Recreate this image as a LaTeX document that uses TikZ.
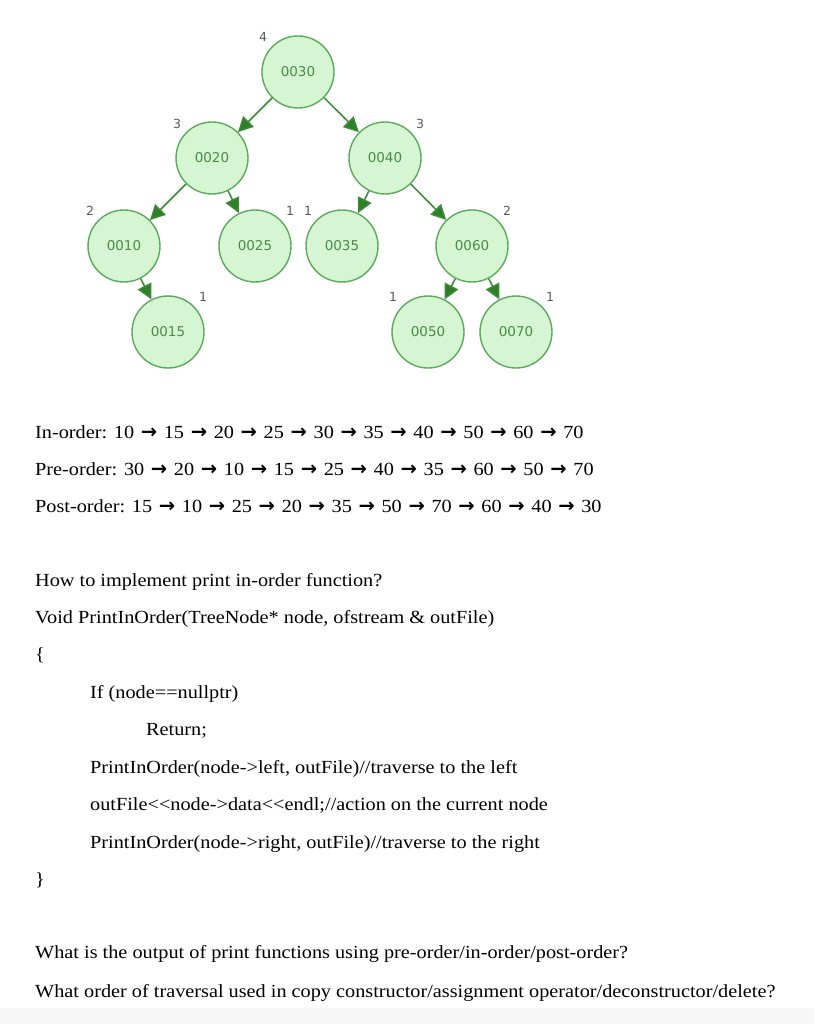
\documentclass[tikz,border=0pt]{standalone}
\usepackage{fontspec}
\setmainfont[FakeStretch=1.095]{Liberation Serif}
\newfontfamily\treefont{DejaVu Sans}
\newfontfamily\arrowfont{DejaVu Sans}
\usetikzlibrary{arrows.meta}
\definecolor{nodefill}{HTML}{D6F5D2}
\definecolor{nodeline}{HTML}{5BAA5B}
\definecolor{nodetext}{HTML}{4A8A4A}
\definecolor{edgecol}{HTML}{3A8A36}
\definecolor{headcol}{HTML}{2F7F2A}
\definecolor{bandcol}{HTML}{F7F7F7}
\newcommand{\ra}{ \hspace{1.6pt}{\arrowfont\bfseries\fontsize{19.5}{19.5}\selectfont →}\hspace{1.6pt} }
\tikzset{
  tnode/.style={circle, draw=nodeline, fill=nodefill, line width=1.4pt, minimum size=72pt, inner sep=0pt, font=\treefont\fontsize{13.5}{13.5}\selectfont, text=nodetext},
  hlabel/.style={font=\treefont\fontsize{12.5}{12.5}\selectfont, text=black!65, inner sep=0pt},
  tedge/.style={draw=edgecol, line width=1.5pt, -{Triangle[length=15pt,width=15pt,fill=headcol]}},
  txt/.style={anchor=base west, inner sep=0pt, font=\fontsize{18.5}{18.5}\selectfont}
}
\begin{document}
\begin{tikzpicture}[x=1pt,y=-1pt]
\useasboundingbox (0,0) rectangle (814,1024);
\fill[white] (0,0) rectangle (814,1024);
\fill[bandcol] (0,1008) rectangle (814,1024);
% tree nodes
\node[tnode] (n30) at (298,72) {0030};
\node[tnode] (n20) at (212,158) {0020};
\node[tnode] (n40) at (385,158) {0040};
\node[tnode] (n10) at (124,246) {0010};
\node[tnode] (n25) at (255,246) {0025};
\node[tnode] (n35) at (342,246) {0035};
\node[tnode] (n60) at (472,246) {0060};
\node[tnode] (n15) at (168,332) {0015};
\node[tnode] (n50) at (428,332) {0050};
\node[tnode] (n70) at (516,332) {0070};
% height labels
\node[hlabel] (h30) at (263,37) {4};
\node[hlabel] (h20) at (177,124) {3};
\node[hlabel] (h40) at (420,124) {3};
\node[hlabel] (h10) at (90,211) {2};
\node[hlabel] (h25) at (290,211) {1};
\node[hlabel] (h35) at (308,211) {1};
\node[hlabel] (h60) at (507,211) {2};
\node[hlabel] (h15) at (203,297) {1};
\node[hlabel] (h50) at (393,297) {1};
\node[hlabel] (h70) at (550,297) {1};
% edges
\draw[tedge] (n30) -- (n20);
\draw[tedge] (n30) -- (n40);
\draw[tedge] (n20) -- (n10);
\draw[tedge] (n20) -- (n25);
\draw[tedge] (n40) -- (n35);
\draw[tedge] (n40) -- (n60);
\draw[tedge] (n10) -- (n15);
\draw[tedge] (n60) -- (n50);
\draw[tedge] (n60) -- (n70);
% text
\node[txt] (t1) at (35,438) {In-order: 10\ra 15\ra 20\ra 25\ra 30\ra 35\ra 40\ra 50\ra 60\ra 70};
\node[txt] (t2) at (35,475) {Pre-order: 30\ra 20\ra 10\ra 15\ra 25\ra 40\ra 35\ra 60\ra 50\ra 70};
\node[txt] (t3) at (35,512) {Post-order: 15\ra 10\ra 25\ra 20\ra 35\ra 50\ra 70\ra 60\ra 40\ra 30};
\node[txt] (t4) at (35,586) {How to implement print in-order function?};
\node[txt] (t5) at (35,623) {Void PrintInOrder(TreeNode* node, ofstream \& outFile)};
\node[txt] (t6) at (35,660) {\{};
\node[txt] (t7) at (90,698) {If (node==nullptr)};
\node[txt] (t8) at (146,735) {Return;};
\node[txt] (t9) at (90,773) {PrintInOrder(node->left, outFile)//traverse to the left};
\node[txt] (t10) at (90,810) {outFile<{}<node->data<{}<endl;//action on the current node};
\node[txt] (t11) at (90,848) {PrintInOrder(node->right, outFile)//traverse to the right};
\node[txt] (t12) at (35,885) {\}};
\node[txt] (t13) at (35,958) {What is the output of print functions using pre-order/in-order/post-order?};
\node[txt] (t14) at (35,997) {What order of traversal used in copy constructor/assignment operator/deconstructor/delete?};
\end{tikzpicture}
\end{document}
